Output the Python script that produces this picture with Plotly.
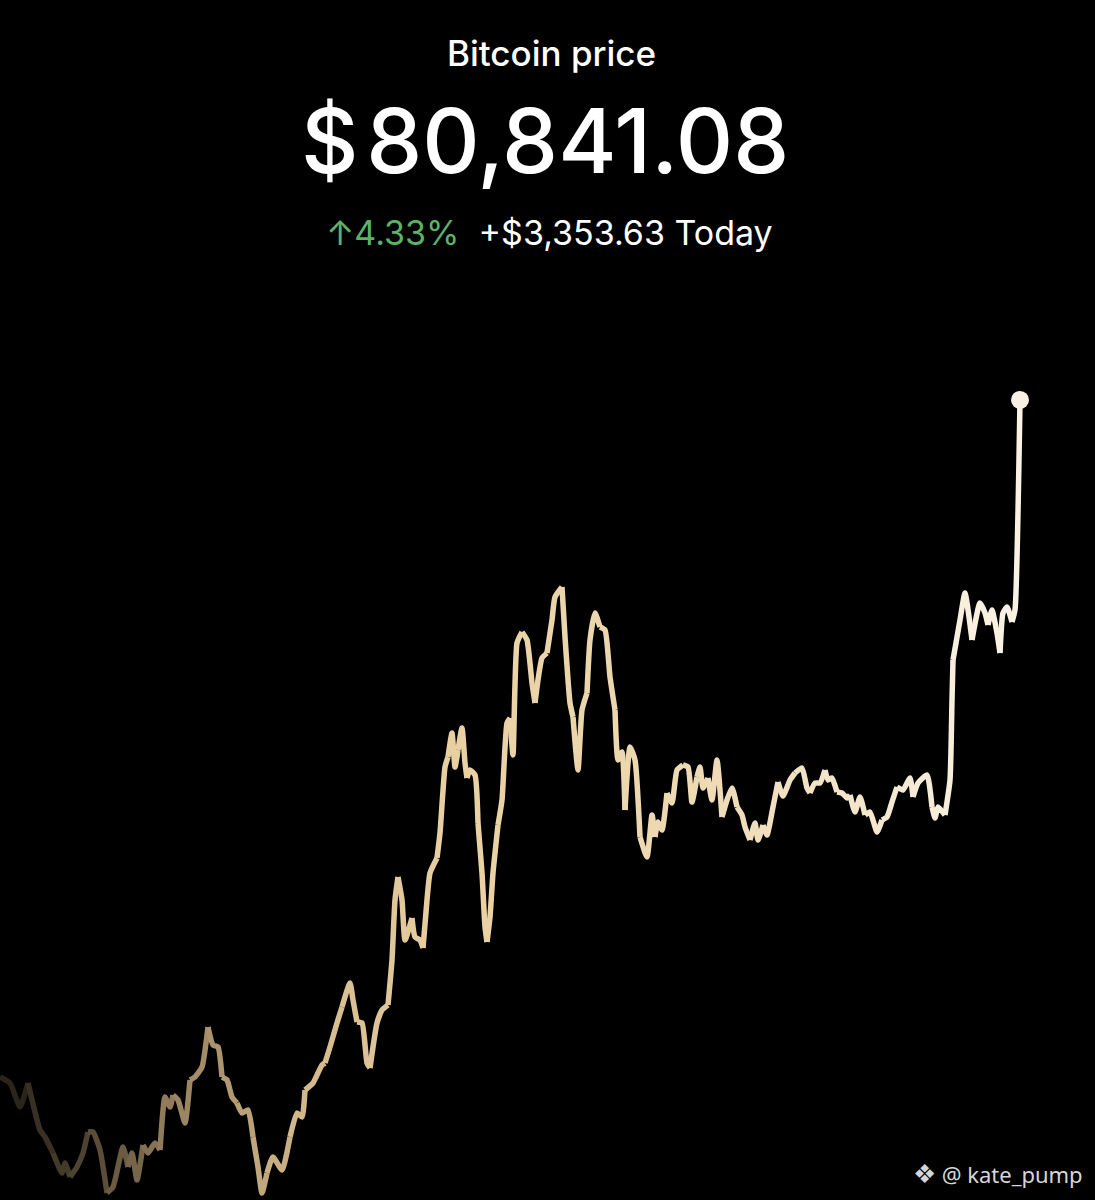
import plotly.graph_objects as go

# Minutes since the start of the day and the price at that minute
MINUTES = [0, 10, 20, 28, 40, 45, 53, 62, 65, 70, 77, 83, 88, 93, 100, 107, 113, 123, 128, 132,
           137, 143, 148, 155, 160, 165, 170, 173, 178, 185, 190, 195, 202, 208, 213, 218, 222, 227,
           232, 237, 242, 248, 253, 258, 262, 267, 273, 282, 290, 297, 302, 305, 313, 322, 325, 330,
           337, 342, 350, 353, 357, 362, 367, 370, 377, 382, 388, 392, 395, 398, 402, 405, 412, 415,
           420, 423, 427, 430, 437, 440, 445, 448, 452, 455, 458, 462, 465, 467, 470, 475, 478, 482,
           485, 487, 490, 493, 498, 502, 507, 510, 513, 517, 522, 527, 532, 535, 538, 542, 547, 552,
           555, 562, 565, 570, 573, 578, 582, 587, 590, 595, 600, 605, 610, 615, 618, 622, 625, 630,
           635, 640, 647, 652, 655, 658, 662, 667, 672, 677, 683, 688, 692, 697, 700, 703, 708, 712,
           717, 722, 727, 732, 737, 742, 745, 750, 755, 758, 763, 767, 773, 778, 783, 790, 795, 802,
           807, 810, 815, 820, 825, 828, 832, 837, 842, 847, 850, 855, 860, 865, 870, 877, 882, 887,
           892, 897, 903, 910, 913, 918, 927, 932, 935, 938, 945, 950, 952, 953, 960, 965, 972, 980,
           985, 988, 992, 997, 1000, 1003, 1007, 1012, 1015, 1020]
PRICES = [77456, 77426, 77306, 77426, 77191, 77156, 77076, 76976, 77026, 76956, 77006, 77076, 77181,
          77181, 77091, 76876, 76906, 77106, 77006, 77076, 76941, 77116, 77076, 77126, 77091, 77356,
          77306, 77366, 77341, 77226, 77441, 77456, 77506, 77706, 77616, 77606, 77456, 77441, 77356,
          77326, 77276, 77291, 77156, 77006, 76876, 76976, 77056, 76991, 77156, 77276, 77256, 77391,
          77426, 77516, 77526, 77606, 77726, 77806, 77926, 77841, 77731, 77726, 77526, 77501, 77726,
          77791, 77816, 78041, 78341, 78456, 78341, 78141, 78251, 78156, 78141, 78101, 78341, 78476,
          78551, 78676, 79006, 79056, 79176, 79006, 79091, 79201, 79026, 78951, 78991, 78966, 78726,
          78476, 78206, 78131, 78256, 78476, 78716, 78841, 79226, 79251, 79066, 79626, 79681, 79641,
          79426, 79326, 79441, 79551, 79576, 79741, 79856, 79906, 79656, 79326, 79256, 78991, 79291,
          79376, 79641, 79776, 79706, 79691, 79456, 79291, 79041, 79081, 78791, 79106, 79041, 78656,
          78556, 78766, 78656, 78731, 78691, 78876, 78826, 78991, 79016, 79006, 78831, 78956, 79006,
          78901, 78951, 78841, 79041, 78756, 78841, 78901, 78806, 78766, 78706, 78641, 78726, 78641,
          78716, 78666, 78806, 78931, 78861, 78941, 78976, 79001, 78901, 78876, 78926, 78926, 78991,
          78941, 78951, 78881, 78876, 78851, 78866, 78781, 78856, 78766, 78781, 78681, 78741, 78756,
          78831, 78906, 78891, 78951, 78856, 78926, 78966, 78806, 78751, 78806, 78766, 78941, 79341,
          79541, 79741, 79876, 79641, 79826, 79776, 79716, 79791, 79676, 79576, 79776, 79806, 79731,
          79791, 80841.08]

TITLE = 'Bitcoin price'
PRICE_LABEL = '$\u200a80,841.08'
CHANGE_PCT = '\u21914.33%'
CHANGE_USD = '+$3,353.63 Today'
WATERMARK = '<span style="font-size:26px">\u2756</span> @ kate_pump'

# Line colour goes from nearly black on the left to cream on the right
COLOR_STOPS = [(0, (34, 29, 22)), (80, (78, 66, 48)), (180, (155, 132, 97)),
               (300, (210, 184, 138)), (450, (233, 208, 162)), (700, (238, 218, 180)),
               (1020, (250, 243, 230))]


def color_at(x):
    for (x0, c0), (x1, c1) in zip(COLOR_STOPS[:-1], COLOR_STOPS[1:]):
        if x <= x1:
            t = (x - x0) / (x1 - x0)
            return 'rgb(%d,%d,%d)' % tuple(round(a + (b - a) * t) for a, b in zip(c0, c1))
    return 'rgb(%d,%d,%d)' % COLOR_STOPS[-1][1]


def main():
    fig = go.Figure()

    # Draw the line in short overlapping pieces so each piece can take its own colour
    step = 3
    for i in range(0, len(MINUTES) - 1, step):
        xs = MINUTES[i:i + step + 1]
        ys = PRICES[i:i + step + 1]
        fig.add_trace(go.Scatter(x=xs, y=ys, mode='lines',
                                 line=dict(color=color_at(sum(xs) / len(xs)), width=5.5,
                                           shape='spline', smoothing=0.5),
                                 hoverinfo='skip', showlegend=False))

    # Dot on the latest price
    fig.add_trace(go.Scatter(x=[MINUTES[-1]], y=[PRICES[-1]], mode='markers',
                             marker=dict(color='#f8f0e3', size=18),
                             hoverinfo='skip', showlegend=False))

    # Header texts, placed by their centre
    header = [(TITLE, 0.504, 53, 35, 500),
              (PRICE_LABEL, 0.498, 141, 89, 500),
              (f'<span style="color:#5cb367">{CHANGE_PCT}</span>  {CHANGE_USD}', 0.502, 233, 34, 400)]
    for text, x, y_px, size, weight in header:
        fig.add_annotation(text=text, x=x, y=1 - y_px / 1200, xref='paper', yref='paper',
                           xanchor='center', yanchor='middle', showarrow=False,
                           font=dict(family='Inter', size=size, color='white', weight=weight))

    fig.add_annotation(text=WATERMARK, x=0.991, y=1 - 1173 / 1200, xref='paper', yref='paper',
                       xanchor='right', yanchor='middle', showarrow=False,
                       font=dict(family='Noto Sans', size=22, color='#d6d6d6'))

    fig.update_layout(width=1095, height=1200, margin=dict(l=0, r=0, t=0, b=0),
                      paper_bgcolor='black', plot_bgcolor='black',
                      xaxis=dict(range=[0, 1095], visible=False),
                      yaxis=dict(range=[76841, 82841], visible=False))

    fig.write_html('out.html', config={'displayModeBar': False},
                   post_script="document.body.style.margin='0';")


if __name__ == '__main__':
    main()
